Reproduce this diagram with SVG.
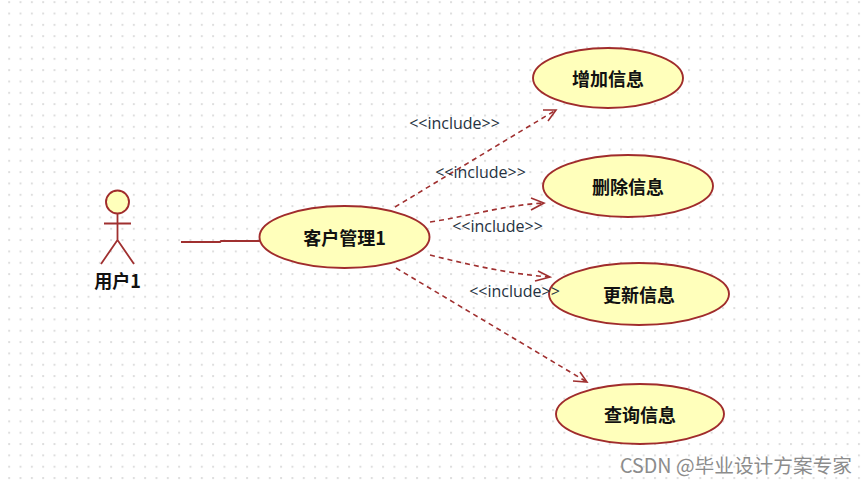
<svg xmlns="http://www.w3.org/2000/svg" width="866" height="486" viewBox="0 0 866 486">
<style>
.uc{fill:#ffffbb;stroke:#a02c2c;stroke-width:1.9}
.act{fill:none;stroke:#a03030;stroke-width:1.8}
.t{font-family:"Noto Sans CJK SC","Liberation Sans",sans-serif;font-size:18px;font-weight:700;fill:#111;text-anchor:middle}
.inc{font-family:"Open Sans","Liberation Sans",sans-serif;font-size:16px;fill:#26323f;text-anchor:middle}
.dash{fill:none;stroke:#a03030;stroke-width:1.6;stroke-dasharray:5 4}
.head{fill:none;stroke:#a03030;stroke-width:1.6}
</style>
<defs>
<pattern id="dots" x="8.2" y="1.2" width="11.33" height="11.33" patternUnits="userSpaceOnUse">
<rect width="2" height="2" fill="#dedede"/>
</pattern>
</defs>
<rect width="866" height="486" fill="#fff"/>
<rect width="866" height="486" fill="url(#dots)"/>
<g id="connectors">
<path d="M181 242L220 242L221 241L260 241" fill="none" stroke="#a03030" stroke-width="1.9"/>
<path class="dash" d="M395 207L556 110"/>
<path class="head" d="M543 110L556 110L548 121"/>
<path class="dash" d="M430 222C470 216 505 205 544 203"/>
<path class="head" d="M531 198L544 203L531 210"/>
<path class="dash" d="M430 255C470 265 510 274 550 277"/>
<path class="head" d="M538 271L550 277L535 281"/>
<path class="dash" d="M396 268L587 382"/>
<path class="head" d="M580 372L587 382L573 381"/>
</g>
<g id="actor">
<circle cx="117.500" cy="202" r="11.500" fill="#ffffbb" stroke="#a02c2c" stroke-width="1.900"/>
<path class="act" d="M117.500 214V240M104 223.500H131M117.500 240L101 264M117.500 240L134 264"/>
<text class="t" x="117.500" y="288">用户1</text>
</g>
<g id="usecase-main">
<ellipse class="uc" cx="344.500" cy="237" rx="85" ry="31"/>
<text class="t" x="344.500" y="245">客户管理1</text>
</g>
<g id="usecase-add">
<ellipse class="uc" cx="608" cy="78" rx="75" ry="30"/>
<text class="t" x="608" y="86">增加信息</text>
</g>
<g id="usecase-delete">
<ellipse class="uc" cx="628" cy="186" rx="85" ry="31"/>
<text class="t" x="628" y="194">删除信息</text>
</g>
<g id="usecase-update">
<ellipse class="uc" cx="639" cy="294" rx="90" ry="31"/>
<text class="t" x="639" y="302">更新信息</text>
</g>
<g id="usecase-query">
<ellipse class="uc" cx="640" cy="414" rx="84" ry="30"/>
<text class="t" x="640" y="422">查询信息</text>
</g>
<g id="labels">
<text class="inc" x="454.500" y="129">&lt;&lt;include&gt;&gt;</text>
<text class="inc" x="480.500" y="178">&lt;&lt;include&gt;&gt;</text>
<text class="inc" x="497.500" y="232">&lt;&lt;include&gt;&gt;</text>
<text class="inc" x="514.500" y="297">&lt;&lt;include&gt;&gt;</text>
</g>
<text x="736" y="473" font-family="'Noto Sans CJK SC','Liberation Sans',sans-serif" font-size="19.700" fill="#8c8c8c" text-anchor="middle">CSDN @毕业设计方案专家</text>
</svg>
